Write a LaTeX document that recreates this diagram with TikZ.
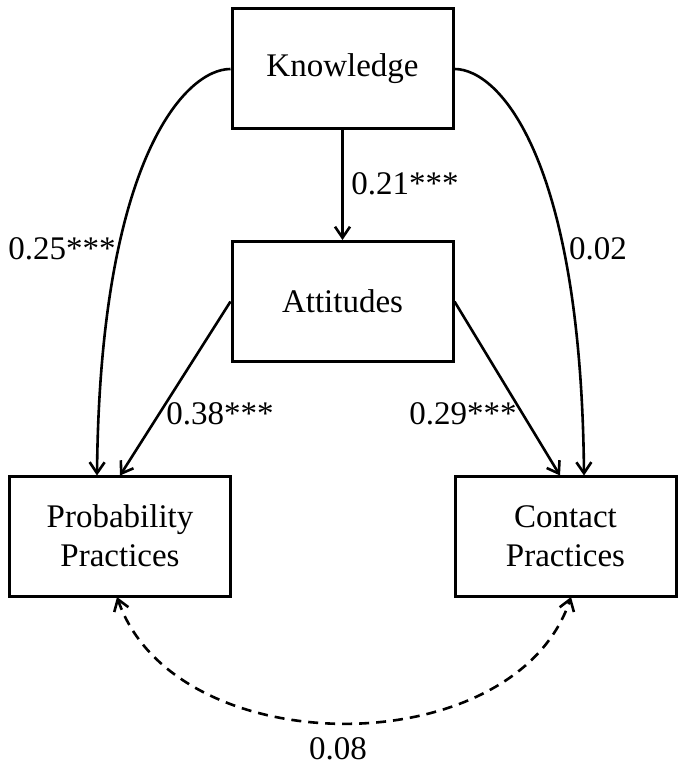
\documentclass[tikz,border=0pt]{standalone}
\usepackage{fontspec}
\setmainfont{Liberation Serif}
\usetikzlibrary{arrows.meta}
\begin{document}
\begin{tikzpicture}[x=1pt,y=-1pt,
  box/.style={draw,line width=3pt,minimum width=221pt,minimum height=120pt,inner sep=0pt,align=center,font=\fontsize{33}{39}\selectfont},
  conn/.style={line width=2.6pt,-{Straight Barb[length=11pt,width=15pt,line width=2.6pt]}},
  lbl/.style={font=\fontsize{33}{38}\selectfont,inner sep=0pt}]
\useasboundingbox (0,0) rectangle (685,767);
\node[box] (K) at (342.5,69) {Knowledge};
\node[box] (A) at (342.5,301.5) {Attitudes};
\node[box] (P) at (120,536) {Probability\\Practices};
\node[box] (C) at (565.5,536) {Contact\\Practices};
\coordinate (Pa) at (97,475.5);
\coordinate (Pb) at (120,475.5);
\coordinate (Ca) at (560,475.5);
\coordinate (Cb) at (584,475.5);
\coordinate (Pd) at (117,597);
\coordinate (Cd) at (571,597);
\draw[conn] (K.west) .. controls (185,69) and (100,160) .. (Pa);
\draw[conn] (K.east) .. controls (500,69) and (581,160) .. (Cb);
\draw[conn] (K.south) -- (A.north);
\draw[conn] (A.west) -- (Pb);
\draw[conn] (A.east) -- (Ca);
\draw[line width=2.6pt,dash pattern=on 10pt off 7pt,{Straight Barb[length=11pt,width=15pt,line width=2.6pt]}-{Straight Barb[length=11pt,width=15pt,line width=2.6pt]}] (Pd) .. controls (175,765) and (515,765) .. (Cd);
\node[lbl] (l1) at (405,184) {0.21***};
\node[lbl] (l2) at (62,249) {0.25***};
\node[lbl] (l3) at (598,249) {0.02};
\node[lbl] (l4) at (220,414) {0.38***};
\node[lbl] (l5) at (463,414) {0.29***};
\node[lbl] (l6) at (338,749) {0.08};
\end{tikzpicture}
\end{document}
